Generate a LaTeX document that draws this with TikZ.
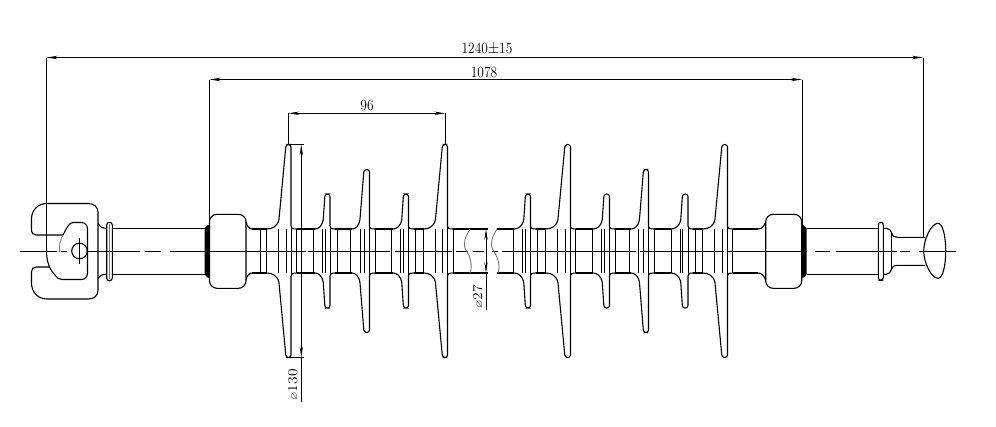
\documentclass[tikz,border=0pt]{standalone}
\usepackage{amsmath,amsthm,amssymb}
\usepackage{tikz}
\usetikzlibrary{arrows.meta}

\tikzset{
  part/.style={draw=black,line width=1.1pt},
  core line/.style={draw=black,line width=0.75pt},
  thin part/.style={draw=black!55,line width=0.9pt},
  axis/.style={draw=black,line width=0.9pt},
  dim/.style={draw=black,line width=0.95pt},
  dim both/.style={dim,{Stealth[length=11pt,width=3.4pt]}-{Stealth[length=11pt,width=3.4pt]}},
  dim text/.style={inner sep=0pt,font=\fontsize{13.5}{14}\selectfont,yscale=1.15},
}

% one shed, both halves: left x, right x, tip, fillet start, fillet end, knee inset
\newcommand{\shed}[6]{
  \foreach \s in {1,-1} {
    \begin{scope}[shift={(0,251)},yscale=\s]
      \path[part] (#4,-22) .. controls ({#4+0.4*(#1-#6-#4)},-22) and ({#1-#6-1},-24.5) .. ({#1-#6},-32)
        [rounded corners=2.6pt] -- (#1,#3) -- (#2,#3) [sharp corners] -- (#2,-25)
        .. controls (#2,-23) and ({#2+1},-22) .. (#5,-22);
      \path[core line] (#2,-25) -- (#2,0);
      \path[core line] (#1,-22) -- (#1,0);
    \end{scope}
  }
}

\begin{document}
\begin{tikzpicture}[x=1pt,y=-1pt]
\useasboundingbox (0,0) rectangle (996,426);

% centre line
\foreach \a/\b in {20/57,60.5/66.5,87/140,145/161,170/306,308/390,395/452,456/468,473/484,492/498,502/636,640/724,728/807,815/830,836/897,900/910,919/956}
  \path[axis] (\a,251) -- (\b,251);

% sheds
\shed{286}{291}{-106.5}{267}{297}{7}
\shed{325}{330}{-57}{315}{335}{1.7}
\shed{364}{369.5}{-81.5}{352}{375}{4}
\shed{403.5}{408.5}{-57}{393}{414}{1.7}
\shed{442.5}{447.5}{-106.5}{424}{453}{7}
\shed{525.5}{530.5}{-57}{514}{536}{1.7}
\shed{565}{570.5}{-106.5}{546}{576}{7}
\shed{604}{609.5}{-57}{593}{615}{1.7}
\shed{643.5}{648.5}{-81.5}{631}{654}{4}
\shed{682.5}{688}{-57}{671}{693}{1.7}
\shed{722}{727.5}{-106.5}{703}{733}{7}

% core
\foreach \a/\b in {252/267,297/315,335/352,375/393,414/424,453/488,497/514,536/546,576/593,615/631,654/671,693/703,733/758} {
  \path[part] (\a,229) -- (\b,229);
  \path[part] (\a,273) -- (\b,273);
}
\foreach \x in {260,266,278.3,296.3,313.3,322.3,337.3,350.3,360,375.3,391.3,400,415,423.3,435.7,453.3,513.3,522.3,537.3,545.3,557.3,575.3,592.3,601,615.7,629.3,638.3,654,671.7,680,695.3,702.3,714.3,732.3}
  \path[core line] (\x,229) -- (\x,273);

% break
\path[thin part] (470,229) .. controls (466,236) and (462,243) .. (466,250) .. controls (470,256) and (473,265) .. (470,273);
\path[thin part] (497,229) .. controls (493,236) and (489,243) .. (493,250) .. controls (497,256) and (501,265) .. (498,273);

% clevis end
\path[part] (63,235) -- (36,235) .. controls (33,235) and (31.5,233) .. (31.5,229) -- (31.5,219)
  .. controls (31.5,210) and (38,203.5) .. (47,203.5) -- (88,203.5)
  .. controls (94,203.5) and (98,207) .. (98,212) -- (98,290)
  .. controls (98,296) and (94,299) .. (88,299) -- (47,299)
  .. controls (38,299) and (31.5,292) .. (31.5,283) -- (31.5,272)
  .. controls (31.5,269) and (33,267) .. (36,267) -- (49,267);
\path[part] (46.5,251) .. controls (46.5,262) and (50,270) .. (55,275)
  .. controls (57,278) and (59,279.5) .. (62,279.5) -- (81,279.5)
  .. controls (85,279.5) and (87.5,277) .. (87.5,273) -- (87.5,229)
  .. controls (87.5,225) and (85,222.5) .. (81,222.5) -- (73,222.5)
  .. controls (69,222.5) and (66,229) .. (63,235);
\path[thin part] (63,235) .. controls (60,240) and (59.3,246) .. (59.3,252);
\node[shape=circle,draw=black,line width=1.1pt,minimum size=15.6pt,inner sep=0pt] (pin) at (79.5,251) {};
\path[axis] (79.5,238) -- (79.5,264);
\path[part] (98,223) .. controls (100,227) and (102,228.3) .. (106.7,228.3);
\path[part] (98,279) .. controls (100,275) and (102,274.3) .. (106.7,274.3);
\path[part,rounded corners=2.6pt] (106.7,222.3) rectangle (112.3,280.7);
\path[thin part] (109.5,224) -- (109.5,279);
\path[part] (112.3,228.3) -- (205,228.3);
\path[part] (112.3,274.3) -- (205,274.3);

% left crimp and bulge
\fill[black] (204.5,228.3) -- (208,225) -- (209.8,225) -- (209.8,278) -- (208,278) -- (204.5,274.3) -- cycle;
\path[part,rounded corners=7.5pt] (209.5,214.3) rectangle (246,288.3);
\path[part] (246,222) .. controls (247,226) and (249,229) .. (252,229);
\path[part] (246,280) .. controls (247,276) and (249,273) .. (252,273);

% right crimp and bulge
\path[part] (758,229) .. controls (762,229) and (764,226) .. (765.7,222);
\path[part] (758,273) .. controls (762,273) and (764,276) .. (765.7,280);
\path[part,rounded corners=7.5pt] (765.7,214.3) rectangle (801.7,288.3);
\fill[black] (801.5,225) -- (803,225) -- (806.7,228.3) -- (806.7,274.3) -- (803,278) -- (801.5,278) -- cycle;
\path[part] (806.7,228.3) -- (878.3,228.3);
\path[part] (806.7,274.3) -- (878.3,274.3);

% ball end
\path[part,rounded corners=2.6pt] (878.3,222.3) rectangle (883.3,280.2);
\path[part] (883.3,228.3) -- (886,228.3) .. controls (889,228.3) and (891,230) .. (891.7,233)
  .. controls (892,236) and (894,237.3) .. (897,237.3) -- (925,237.3);
\path[part] (883.3,274.3) -- (886,274.3) .. controls (889,274.3) and (891,272) .. (891.7,269)
  .. controls (892,266.5) and (894,265.3) .. (897,265.3) -- (925,265.3);
\path[core line] (891.7,233) -- (891.7,269);
\path[part] (923.7,251) .. controls (923.7,240) and (931,223.3) .. (938,223.3)
  .. controls (943,223.3) and (945.7,237) .. (945.7,251)
  .. controls (945.7,265) and (943,278.3) .. (938,278.3)
  .. controls (931,278.3) and (923.7,262) .. (923.7,251) -- cycle;

% dimensions
\coordinate (L1) at (46.5,57.5);
\coordinate (L2) at (923,57.5);
\coordinate (L1end) at (46.5,251);
\coordinate (L2end) at (923,237.3);
\coordinate (M1) at (209.5,79.5);
\coordinate (M2) at (802,79.5);
\coordinate (M1end) at (209.5,226);
\coordinate (M2end) at (802,226);
\coordinate (S1) at (288.3,113.3);
\coordinate (S2) at (445.3,113.3);
\coordinate (S1end) at (288.3,144.5);
\coordinate (S2end) at (445.3,144.5);
\coordinate (Da) at (301.3,144.5);
\coordinate (Db) at (301.3,357.5);
\coordinate (Dc) at (301.3,401.5);
\coordinate (Dal) at (288,144.5);
\coordinate (Dar) at (304,144.5);
\coordinate (Dbl) at (286,357.5);
\coordinate (Dbr) at (304,357.5);
\coordinate (Ca) at (486,229);
\coordinate (Cb) at (486,273);
\coordinate (Cc) at (486,310);
\coordinate (Cbl) at (470,273);
\coordinate (Cbr) at (488,273);

\draw[dim both] (L1) -- (L2);
\draw[dim both] (M1) -- (M2);
\draw[dim both] (S1) -- (S2);
\draw[dim both] (Da) -- (Db);
\draw[dim both] (Ca) -- (Cb);
\path[dim] (L1) edge (L1end) (L2) edge (L2end);
\path[dim] (M1) edge (M1end) (M2) edge (M2end);
\path[dim] (S1) edge (S1end) (S2) edge (S2end);
\path[dim] (Db) edge (Dc) (Cb) edge (Cc);
\path[dim] (Dal) edge (Dar) (Dbl) edge (Dbr);
\path[dim] (Cbl) edge (Cbr);

\node[dim text] (len) at (487,49) {1240$\pm$15};
\node[dim text] (arc) at (484,72) {1078};
\node[dim text] (pitch) at (367,105) {96};
\node[dim text,rotate=90] (shedd) at (293,385) {$\scriptstyle\varnothing$130};
\node[dim text,rotate=90] (cored) at (478,297) {$\scriptstyle\varnothing$27};
\end{tikzpicture}
\end{document}
